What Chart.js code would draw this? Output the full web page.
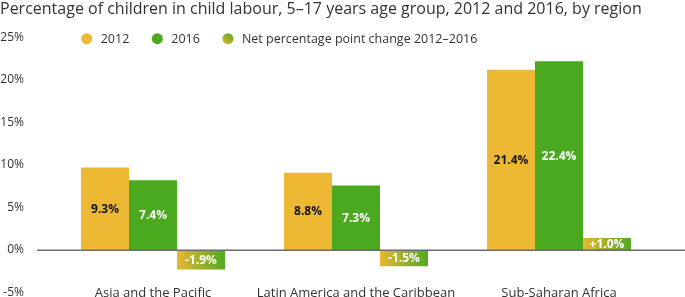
<!DOCTYPE html>
<html>
<head>
<meta charset="utf-8">
<script src="https://cdn.jsdelivr.net/npm/chart.js@4.4.1/dist/chart.umd.min.js"></script>
<style>
  html, body { margin: 0; padding: 0; background: #fff; overflow: hidden; }
  #wrap { position: relative; width: 685px; height: 297px; }
</style>
</head>
<body>
<div id="wrap"><canvas id="labourChart"></canvas></div>
<script>
// data
const regions = ['Asia and the Pacific', 'Latin America and the Caribbean', 'Sub-Saharan Africa'];
const values2012 = [9.7, 9.1, 21.2];
const values2016 = [8.2, 7.6, 22.2];
const valuesChange = [-2.3, -1.9, 1.4];
const labels2012 = ['9.3%', '8.8%', '21.4%'];
const labels2016 = ['7.4%', '7.3%', '22.4%'];
const labelsChange = ['-1.9%', '-1.5%', '+1.0%'];
const yMin = -5;
const yMax = 25;
const yStep = 5;

const YELLOW = '#edb834';
const GREEN = '#4aa91e';
const TEXT = '#333333';
const FONT = "'Open Sans', sans-serif";

Chart.defaults.font.family = FONT;

function gradientAcross(ctx, x0, y0, x1, y1) {
    const g = ctx.createLinearGradient(x0, y0, x1, y1);
    g.addColorStop(0, '#e9b733');
    g.addColorStop(1, '#4faa1f');
    return g;
}

// the change bars fade from yellow to green
const changeGradient = {
    id: 'changeGradient',
    beforeDatasetDraw(chart, args) {
        if (args.index !== 2) return;
        args.meta.data.forEach(el => {
            const g = gradientAcross(chart.ctx, el.x - el.width / 2, 0, el.x + el.width / 2, 0);
            el.options = Object.assign({}, el.options, { backgroundColor: g });
        });
    }
};

const zeroLine = {
    id: 'zeroLine',
    afterDatasetsDraw(chart) {
        const { ctx, scales: { y } } = chart;
        const py = Math.round(y.getPixelForValue(0)) + 0.25;
        ctx.save();
        ctx.strokeStyle = '#6b6b6b';
        ctx.lineWidth = 1.5;
        ctx.beginPath();
        ctx.moveTo(37, py);
        ctx.lineTo(chart.width, py);
        ctx.stroke();
        ctx.restore();
    }
};

const barLabels = {
    id: 'barLabels',
    afterDatasetsDraw(chart) {
        const { ctx } = chart;
        const sets = [
            { text: labels2012, color: '#141414' },
            { text: labels2016, color: '#ffffff' },
            { text: labelsChange, color: '#ffffff' }
        ];
        ctx.save();
        ctx.font = 'bold 12px ' + FONT;
        ctx.textAlign = 'center';
        ctx.textBaseline = 'middle';
        sets.forEach((s, d) => {
            chart.getDatasetMeta(d).data.forEach((el, i) => {
                ctx.fillStyle = s.color;
                ctx.fillText(s.text[i], el.x, (el.y + el.base) / 2 + 0.5);
            });
        });
        ctx.restore();
    }
};

// region names sit level with the -5% tick, so they are placed from the scales here
const regionLabels = {
    id: 'regionLabels',
    afterDraw(chart) {
        const { ctx, scales: { x, y } } = chart;
        const py = y.getPixelForValue(yMin) + 0.5;
        ctx.save();
        ctx.font = '13px ' + FONT;
        ctx.fillStyle = TEXT;
        ctx.textAlign = 'center';
        ctx.textBaseline = 'middle';
        chart.data.labels.forEach((lab, i) => {
            ctx.fillText(lab, x.getPixelForValue(i), py);
        });
        ctx.restore();
    }
};

const dotLegend = {
    id: 'dotLegend',
    afterDraw(chart) {
        const { ctx } = chart;
        const cy = 38.7;
        const r = 5.5;
        let cx = 86.7;
        ctx.save();
        ctx.font = '12.5px ' + FONT;
        ctx.textBaseline = 'middle';
        ctx.textAlign = 'left';
        chart.data.datasets.forEach((ds, i) => {
            ctx.beginPath();
            ctx.arc(cx, cy, r, 0, Math.PI * 2);
            ctx.fillStyle = i === 2 ? gradientAcross(ctx, cx - r, cy + r, cx + r, cy - r) : ds.backgroundColor;
            ctx.fill();
            ctx.fillStyle = TEXT;
            const tx = cx + 14;
            ctx.fillText(ds.label, tx, cy + 0.5);
            cx = tx + ctx.measureText(ds.label).width + 28;
        });
        ctx.restore();
    }
};

new Chart(document.getElementById('labourChart'), {
    type: 'bar',
    data: {
        labels: regions,
        datasets: [
            { label: '2012', data: values2012, backgroundColor: YELLOW },
            { label: '2016', data: values2016, backgroundColor: GREEN },
            { label: 'Net percentage point change 2012–2016', data: valuesChange, backgroundColor: YELLOW }
        ]
    },
    options: {
        responsive: true,
        maintainAspectRatio: false,
        animation: false,
        events: [],
        layout: { padding: { left: 0, right: 24.5, top: 0, bottom: 4.5 } },
        datasets: {
            bar: { barPercentage: 1, categoryPercentage: 0.709, borderWidth: 0 }
        },
        plugins: {
            legend: { display: false },
            tooltip: { enabled: false },
            title: {
                display: true,
                text: 'Percentage of children in child labour, 5–17 years age group, 2012 and 2016, by region',
                align: 'start',
                color: TEXT,
                font: { size: 16, weight: 'normal' },
                padding: { top: 0, bottom: 18.3 }
            }
        },
        scales: {
            x: {
                display: false
            },
            y: {
                min: yMin,
                max: yMax,
                // tick marks are hidden, their length just sets the gap to the labels
                grid: { display: false, drawTicks: true, tickLength: 27.5 },
                border: { display: false },
                ticks: {
                    stepSize: yStep,
                    color: TEXT,
                    font: { size: 12 },
                    padding: 0,
                    callback: v => v + '%'
                },
                afterFit(scale) {
                    scale.width = 51.5;
                    scale.paddingTop = 0;
                    scale.paddingBottom = 0;
                }
            }
        }
    },
    plugins: [changeGradient, zeroLine, barLabels, regionLabels, dotLegend]
});
</script>
</body>
</html>
